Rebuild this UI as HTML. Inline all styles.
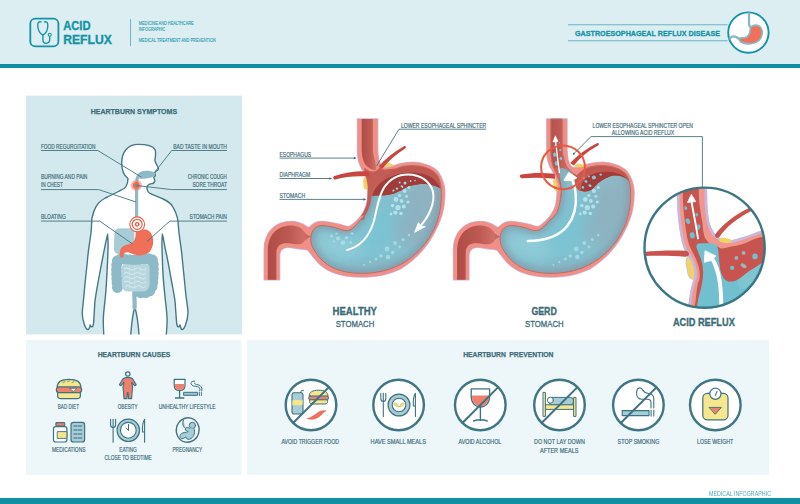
<!DOCTYPE html>
<html><head><meta charset="utf-8">
<style>
html,body{margin:0;padding:0;background:#fff;}
body{width:800px;height:504px;overflow:hidden;font-family:"Liberation Sans",sans-serif;}
svg{display:block;}
text{font-family:"Liberation Sans",sans-serif;}
.t{fill:#3d6b78;}
.lb{fill:#3f6c79;font-size:6.3px;stroke:#3f6c79;stroke-width:.18px;}
.ln{stroke:#44747f;stroke-width:.9;fill:none;}
</style></head><body>
<svg width="800" height="504" viewBox="0 0 800 504">
<defs>

<clipPath id="cpSym"><rect x="26.1" y="95.7" width="215.9" height="238.7"/></clipPath>

<radialGradient id="gFluid" cx="370" cy="245" r="85" gradientUnits="userSpaceOnUse">
<stop offset="0" stop-color="#80c4d3"/><stop offset=".6" stop-color="#86c1cf"/><stop offset="1" stop-color="#8dbcc9"/>
</radialGradient>
<linearGradient id="gLumen" x1="0" x2="1" y1="0" y2="0">
<stop offset="0" stop-color="#b04c47"/><stop offset=".6" stop-color="#bd5a53"/><stop offset="1" stop-color="#cf7068"/>
</linearGradient>
<path id="stOuter" d="M357.5,119 L357.5,151 C357.6,157 358.4,162 360.6,166.4 C362.6,170.2 365.2,173.6 366.6,177.6 C368.2,182.6 368.2,191 367.3,200 C366.5,208 362,216 356,221.4 C352.5,224.6 350,227 348,226.6 C344,225.8 341,224.6 338,224 C333,222.8 327,221.4 321.5,221.4 C316.5,221.4 312.5,224 310.3,226.4 C309,227.6 308,227.8 306.8,226.8 C302.5,223.4 297,221.4 291,221.4 C275,221.4 264.2,232.5 264.2,250 L264.2,279.8 L279.6,279.8 L279.6,256 C279.6,251 281.5,248.2 286.5,247.4 C291,247 296,248.6 301,249 C304,249.2 306.5,249.2 308,250.2 C310,252.4 312,255.4 314,257.8 C317,261.6 320,265 323.5,267.2 C326.5,269.4 329.5,271 331,271.5 C336,273.6 341,275 347,276 C353,277 359,277.2 365,277 C371,276.8 377,276.2 382.5,275 C389,273.4 395,271.4 400.5,268.8 C406.6,265 412,261 417,256 C423,250 428.8,242.8 433.2,234.8 C436.8,228.4 440,221.2 442.2,214 C443.4,209.4 444.2,204.8 444.5,200 C444.8,196 444.9,193 444.7,190 C444.5,187 444,184.6 443.2,182.4 C442,178.6 440.2,174.6 437.8,171.6 C434.8,168.2 431,166.2 426.6,164.8 C422.4,163.4 418,162.5 413.4,162.3 C408.6,162.4 404,163 399.5,164 C396.5,164.8 394,165.8 391.6,166.5 C388.6,167.4 385.6,168.2 383.4,167.6 C381,166.4 379.5,163 378.8,160 C378,156 377.9,153 377.7,150 L377.7,119 Z"/>
<path id="stCav" d="M371.4,194 C371.2,203 367.6,212.4 361,219.6 C356.5,224.5 352.5,230 347.5,230.6 C344,231 340.5,229.2 337,228.2 C332,226.8 327,225.6 322,225.6 C318,225.6 314.6,227.6 312.8,230.6 C311.2,233.4 310.8,236.6 310.8,239 C310.8,242 311.6,245.6 313.4,248.8 C316,253.4 319.6,258 324,262 C328,265.4 333,268.2 338.5,270 C344,271.8 350,272.8 356,273.2 C362,273.6 368,273.4 374,272.6 C380,271.8 386,270.4 391.5,268.4 C398,266 404,262.8 409.5,258.8 C415.5,254.4 421,249 425.6,243 C430,237.2 433.6,230.6 436.4,223.8 C438.2,218.4 439.8,212.6 440.6,206.8 C441.2,201.6 441.5,196 441.3,191 C441.1,187 440.6,183.4 439.6,180.2 C438.6,176 435.6,172.6 432,170.4 C428,168.2 424,166.8 419.4,166.1 C414.6,165.4 409.6,165.4 405,166.1 C400.4,166.9 396,168.4 392,170.6 C388,173.4 384.2,176.2 381,179.4 C377.8,182.6 375.2,186.4 373.4,190 C372.6,191.4 371.8,192.6 371.4,194 Z"/>
<clipPath id="cpCav"><use href="#stCav"/></clipPath>
<clipPath id="cpOuter"><use href="#stOuter"/></clipPath>
<g id="bubC" fill="#b2e1eb">
<circle cx="404.5" cy="191" r="2.00"/><circle cx="409" cy="187.5" r="1.50"/><circle cx="399.5" cy="195.5" r="1.62"/><circle cx="396" cy="199.5" r="2.38"/><circle cx="401.6" cy="201" r="1.88"/><circle cx="406.6" cy="196.4" r="1.38"/><circle cx="392.5" cy="205.5" r="1.75"/><circle cx="398" cy="207.5" r="2.62"/><circle cx="403.8" cy="206.6" r="2.00"/><circle cx="408" cy="202" r="1.62"/><circle cx="395.4" cy="212.6" r="2.12"/><circle cx="401" cy="213.6" r="1.75"/><circle cx="391" cy="214" r="1.38"/>
</g>
<g id="bubL" fill="#b2e1eb" opacity=".75"><circle cx="331.5" cy="236" r="1.5"/><circle cx="336.5" cy="233.6" r="1.2"/><circle cx="338" cy="238.6" r="2"/><circle cx="343" cy="242.6" r="2.3"/><circle cx="346.6" cy="237.6" r="1.7"/><circle cx="352" cy="233.6" r="1.4"/><circle cx="350.8" cy="242.6" r="1.3"/><circle cx="334" cy="241.4" r="1.1"/></g>
<g id="bubB" fill="#b2e1eb" opacity=".7"><circle cx="376" cy="259" r="1.5"/><circle cx="381" cy="256" r="1.7"/><circle cx="387" cy="249" r="2.4"/><circle cx="392.6" cy="252.6" r="1.8"/><circle cx="388" cy="257" r="2.3"/><circle cx="395" cy="243" r="2"/><circle cx="399.6" cy="247" r="1.4"/><circle cx="403" cy="239.5" r="1.6"/><circle cx="409" cy="235" r="1.3"/><circle cx="370" cy="262" r="1.2"/><circle cx="364" cy="265" r="1"/></g>
<g id="bubbles"><use href="#bubC"/><use href="#bubL"/><use href="#bubB"/></g>
<g id="bubblesG"><use href="#bubC"/><use href="#bubB"/></g>
<g id="stBase">
<use href="#stOuter" fill="#ef8f86" stroke="#c9b8de" stroke-width="1.4"/>
<use href="#stOuter" fill="#ef8f86"/>
</g>

<clipPath id="cpBig"><circle cx="704.6" cy="247.7" r="60.1"/></clipPath>
<path id="gCav" d="M361.6,119 L361.6,150 C361.6,158 362.6,164 365,169 C367.6,174.6 370.6,181 371.6,188 C372.2,194 371.4,203 367.6,212.4 C365,217 361,219.6 361,219.6 C356.5,224.5 352.5,230 347.5,230.6 C344,231 340.5,229.2 337,228.2 C332,226.8 327,225.6 322,225.6 C318,225.6 314.6,227.6 312.8,230.6 C311.2,233.4 310.8,236.6 310.8,239 C310.8,242 311.6,245.6 313.4,248.8 C316,253.4 319.6,258 324,262 C328,265.4 333,268.2 338.5,270 C344,271.8 350,272.8 356,273.2 C362,273.6 368,273.4 374,272.6 C380,271.8 386,270.4 391.5,268.4 C398,266 404,262.8 409.5,258.8 C415.5,254.4 421,249 425.6,243 C430,237.2 433.6,230.6 436.4,223.8 C438.2,218.4 439.8,212.6 440.6,206.8 C441.2,201.6 441.5,196 441.3,191 C441.1,187 440.6,183.4 439.6,180.2 C438.6,176 435.6,172.6 432,170.4 C428,168.2 424,166.8 419.4,166.1 C414.6,165.4 409.6,165.4 405,166.1 C400.4,166.9 396.6,168.4 393,170.6 C390.6,172.6 389,174 387.6,175.6 C384.4,174 380.6,171.4 378,167.6 C375.6,164 374.4,159 373.6,155 C373,152 372.9,151 372.9,150 L372.9,119 Z"/>
<clipPath id="cpGCav"><use href="#gCav"/></clipPath>

<filter id="bl3" x="-20%" y="-20%" width="140%" height="140%"><feGaussianBlur stdDeviation="3"/></filter>
<filter id="bl6" x="-30%" y="-30%" width="160%" height="160%"><feGaussianBlur stdDeviation="7"/></filter>
<g id="fluidShade">
<ellipse cx="420" cy="215" rx="26" ry="36" transform="rotate(25 420 215)" fill="#93aab8" opacity=".6" filter="url(#bl6)"/>
<ellipse cx="380" cy="270" rx="55" ry="9" transform="rotate(-8 380 270)" fill="#8fa9b7" opacity=".55" filter="url(#bl6)"/>
<ellipse cx="340" cy="246" rx="24" ry="10" transform="rotate(12 340 246)" fill="#a6dbe6" opacity=".4" filter="url(#bl6)"/>
<ellipse cx="385" cy="222" rx="12" ry="30" transform="rotate(35 385 222)" fill="#74c4d6" opacity=".5" filter="url(#bl6)"/>
</g>
<!--DEFS-->
</defs>
<!-- header -->
<rect x="0" y="0" width="800" height="64" fill="#dceef2"/>
<rect x="0" y="64" width="800" height="4" fill="#0f8fa2"/>
<!-- panels -->
<rect x="26.1" y="95.7" width="215.9" height="238.7" fill="#d4e9ee"/>
<rect x="26" y="340" width="215.5" height="135" fill="#edf6f9"/>
<rect x="247" y="340" width="522" height="135" fill="#edf6f9"/>
<!-- footer -->
<rect x="0" y="498" width="800" height="6" fill="#0f8fa2"/>

<g id="hdr">
<rect x="30.3" y="18.6" width="28.1" height="27.8" rx="5" fill="none" stroke="#1493a6" stroke-width="1.8"/>
<path d="M41,21.8 C39,21.4 37.8,22.6 37.7,25 C37.6,29.4 39.6,34 42.9,35 C46.2,34 48,29.4 47.8,25 C47.7,22.6 46.4,21.4 44.4,21.8" fill="none" stroke="#1493a6" stroke-width="1.35" stroke-linecap="round"/>
<path d="M42.9,35 V39.4 C42.9,42 44.4,43.3 46.3,43.3 C48.3,43.3 49.7,42 49.7,39.6 V36.2" fill="none" stroke="#1493a6" stroke-width="1.35"/>
<circle cx="49.7" cy="34.7" r="1.5" fill="none" stroke="#1493a6" stroke-width="1.1"/>
<text x="63.2" y="29.6" font-size="12.6" font-weight="bold" fill="#1493a6" stroke="#1493a6" stroke-width=".35" textLength="27.4" lengthAdjust="spacingAndGlyphs">ACID</text>
<text x="63.2" y="43.8" font-size="12.6" font-weight="bold" fill="#1493a6" stroke="#1493a6" stroke-width=".35" textLength="48.6" lengthAdjust="spacingAndGlyphs">REFLUX</text>
<rect x="130.2" y="19" width="0.8" height="27" fill="#4aa9b8"/>
<text x="138.8" y="24.8" font-size="5" fill="#2a9bad" stroke="#2a9bad" stroke-width=".12" textLength="54.8" lengthAdjust="spacingAndGlyphs">MEDICINE AND HEALTHCARE</text>
<text x="138.8" y="30.8" font-size="5" fill="#2a9bad" stroke="#2a9bad" stroke-width=".12" textLength="26.5" lengthAdjust="spacingAndGlyphs">INFOGRAPHIC</text>
<text x="138.8" y="42.3" font-size="5" fill="#2a9bad" stroke="#2a9bad" stroke-width=".12" textLength="77" lengthAdjust="spacingAndGlyphs">MEDICAL TREATMENT AND PREVENTION</text>
<rect x="568" y="24.4" width="159.6" height="0.8" fill="#4aa9b8"/>
<rect x="568" y="40.4" width="159.6" height="0.8" fill="#4aa9b8"/>
<text x="575" y="35.8" font-size="7.9" font-weight="bold" fill="#1493a6" stroke="#1493a6" stroke-width=".3" textLength="145" lengthAdjust="spacingAndGlyphs">GASTROESOPHAGEAL REFLUX DISEASE</text>
<circle cx="748.4" cy="32.6" r="20.2" fill="#fff" stroke="#1493a6" stroke-width="1.9"/>
<path d="M749,12.4 V23.4 C749,25.4 749.8,26.6 751.4,27.4" fill="none" stroke="#86b8c5" stroke-width="2.3"/>
<path d="M729.6,39.4 C730.4,37.4 732,36.2 734,36.4 C736,36.6 737.6,38 739.6,39.2" fill="none" stroke="#86b8c5" stroke-width="2.4"/>
<path d="M751,27 C753.6,24.4 758.6,24.4 760.8,27.6 C763.2,31.4 762.4,37 759,40.4 C755,44.2 747,44.6 742.4,42.6 C740,41.6 738.8,39.8 739.6,38.6 C740.4,37.6 742.4,38.2 744.6,37.8 C747.6,37.2 749.6,34.6 750,31.4 C750.2,29.6 750,28.4 751,27 Z" fill="#f0705a" stroke="#86b8c5" stroke-width="1.7" stroke-linejoin="round"/>
</g>
<text x="709" y="496" font-size="8" fill="#2a9bad" textLength="62" lengthAdjust="spacingAndGlyphs" opacity=".85">MEDICAL INFOGRAPHIC</text>
<!--HEADER-->

<g id="sym">
<text x="90.7" y="113.6" font-size="7.6" font-weight="bold" class="t" stroke="#3d6b78" stroke-width=".25" textLength="86.4" lengthAdjust="spacingAndGlyphs">HEARTBURN SYMPTOMS</text>
<g clip-path="url(#cpSym)">
<path id="body" d="M128,178.5 C124.5,176 121.7,170 121.7,163 C121.7,152 128,144.4 138,144.4 C146,144.4 153,146 155,149.5 C156.2,152 155.6,156 154.9,160.4 C155.5,163.5 158.6,167.5 158.5,169 C158.4,170.5 155.2,170.8 154.9,172.7 C154.8,173.8 155.5,174.6 155.3,175.5 C155.1,176.4 153.8,176.6 153.8,177.4 C153.8,178.4 155.2,179.6 154.8,181 C154.4,182.6 153.4,183.6 152,183.6 C150.5,183.8 149.2,184 148.2,185 C147,186 146.8,188 147.2,189.6 C147.6,191.4 148.4,192.6 150,193.4 C154,195.4 159,197 163.2,199 C167.5,201 170.8,203.2 172.7,206.6 C175,210.5 176.6,214 177.4,217.9 C178.4,223 178.4,226 178.7,230 C179.6,239 181.2,247 182,255.7 C183,267 184.5,280 185.5,291.4 C186.2,299 187.4,305 187.9,310.5 C188.3,316 187,321 185.5,325 C184.5,327.8 183.5,329.5 182,329.5 C180.8,329.5 180.6,327 180,325 C179.4,326.6 178.6,327.2 177.8,326.6 C176.6,325.6 176.6,322.5 176.4,320 C176,314 175.5,309 175.2,303 C174.4,295 172.6,287 171.2,279.5 C169.4,269 167.4,258 165.2,248.6 C164.4,244 163.6,239 162.4,234.3 C162,239 161.8,244 162,248.6 C162.3,256 162.5,265 162.9,272.4 C163.4,281 164.3,290 165.2,298.6 C166,306 167,313 167.1,320 C167.2,326 166.4,332 166,338 L139.3,338 C138.6,328 137.6,316 134.8,307 C132,316 131.2,328 130.5,338 L104,338 C103.6,332 103.2,326 103.3,320 C103.4,313 104.4,306 105.2,298.6 C106.1,290 106.6,281 107,272.4 C107.4,265 107.8,256 108,248.6 C108.2,244 108,239 107.6,234.3 C106.4,239 105.3,244 104.5,248.6 C102.6,258 100.5,269 98.6,279.5 C97.2,287 95.6,295 94.8,303 C94.4,309 94.2,314 93.8,320 C93.6,322.5 93.6,325.6 92.4,326.6 C91.6,327.2 90.8,326.6 90.2,325 C89.6,327 89.4,329.5 87.9,329.5 C86.5,329.5 85.5,327.8 84.5,325 C83,321 81.9,316 82.4,310.5 C82.9,305 83.7,299 84.3,291.4 C85.2,280 86.9,267 87.9,255.7 C88.7,247 90.4,239 91.3,230 C91.6,226 91.4,223 92,218 C92.8,214 93.8,210.5 96,206.6 C98,203.2 101,200.4 105.3,198 C109.5,196 114.5,193.6 118.5,191.5 C121.5,190 124.5,189 126,186.5 C127.5,184 128,181 128,178.5 Z" fill="#fff" stroke="#447885" stroke-width="1.4" stroke-linejoin="round"/>
<!-- mouth / throat -->
<path d="M155,174.2 C151,172.2 145,171.6 141.5,173.2 C138,175 136.6,178.5 136.6,183 V226" fill="none" stroke="#8dbac6" stroke-width="3.2"/>
<path d="M154.5,174.6 C150,172.6 144.6,172.8 141.5,174.4 C139.6,175.6 139,177.4 139.2,178.6 C143,178.9 150,178.2 154,176.4 Z" fill="#8dbac6"/>
<!-- liver -->
<path d="M114.4,233 C114.6,230 116.5,228.6 119,228.5 L133,228.3 C134,228.3 134.3,229 134.3,230 L134.3,245 C133,247.5 130.5,250 128,252 C124.5,254.6 119.5,255 116.4,253.4 C114.4,252.2 113.8,250 113.9,247.5 Z" fill="#a8ccd6"/>
<!-- large intestine -->
<path d="M134.4,292 C134,297 135,302 134.6,307.6" fill="none" stroke="#8dbac6" stroke-width="4.2" stroke-linecap="round"/>
<path d="M117.4,287.6 C116.6,279 116.2,269 116.8,262.6 C117.2,259.4 119,258.8 122,259 C130,260.4 140,260 148,258.8 C151.6,258.4 153.2,259.6 153.3,262.8 C153.6,270 153.4,277 152.6,284 C152,289 149.6,292.4 145,292.8 C142,293 139.6,292.8 137.4,292.4" fill="none" stroke="#8dbac6" stroke-width="8.4" stroke-linejoin="round" stroke-linecap="round"/>
<path d="M117.4,287.6 C116.6,279 116.2,269 116.8,262.6 C117.2,259.4 119,258.8 122,259 C130,260.4 140,260 148,258.8 C151.6,258.4 153.2,259.6 153.3,262.8 C153.6,270 153.4,277 152.6,284 C152,289 149.6,292.4 145,292.8 C142,293 139.6,292.8 137.4,292.4" fill="none" stroke="#8dbac6" stroke-width="10.8" stroke-linejoin="round" stroke-linecap="round" stroke-dasharray="0.1 4.4"/>
<path d="M121.8,268 C121.8,265.4 123.4,264 126,264.2 C133,265 140,265 146,264.2 C148.6,264 149.6,265.4 149.6,268 V284 C149.6,288.6 147,291.4 142.6,291.4 H128 C124,291.4 121.8,289 121.8,285 Z" fill="#b6d6de"/>
<path d="M124,269 q2.6,-2.4 5.4,0 t5.4,0 t5.4,0 t5.4,0 M124,273.4 q2.6,-2.4 5.4,0 t5.4,0 t5.4,0 t5.4,0 M124,277.8 q2.6,-2.4 5.4,0 t5.4,0 t5.4,0 t5.4,0 M124,282.2 q2.6,-2.4 5.4,0 t5.4,0 t5.4,0 t5.4,0 M125,286.6 q2.6,-2.4 5.4,0 t5.4,0 t5.4,0 t4,0" fill="none" stroke="#dcedf1" stroke-width=".9"/>
<path d="M129.4,266 v22 M134.8,266 v23 M140.2,266 v23 M145.4,267 v20" fill="none" stroke="#c9e1e7" stroke-width=".6"/>
<!-- stomach -->
<path d="M135.6,226 V231 C135.8,234 135.6,237 134.6,239.6 C133.6,242.4 131,244 128,244.6 C125,245.2 121.6,246.6 120.4,249.4 C119.4,252 119.6,255 120.4,257.4 L123.6,257.2 C123.4,255.2 123.6,253 125,252.2 C127.5,251 131,253.6 135,254.8 C140,256.2 146,255.4 149.6,251.8 C152.6,248.6 153.6,243.6 153,239 C152.4,234.4 150,230.6 146,229.6 C143,229 140.2,229.8 138.2,231.4 V226 Z" fill="#f06f59"/>
<!-- rings -->
<circle cx="137.2" cy="224.3" r="7.4" fill="#fff" stroke="#ee5f45" stroke-width="1.1"/>
<circle cx="137.2" cy="224.3" r="5" fill="#fff" stroke="#ee5f45" stroke-width="1.2"/>
<circle cx="137.2" cy="224.3" r="2.4" fill="#ee5f45"/>
<circle cx="137.2" cy="224.3" r="1" fill="#fff"/>
<circle cx="136.3" cy="185.4" r="5.6" fill="#f2806a" opacity=".55"/>
<circle cx="136.3" cy="185.4" r="3.4" fill="#ef6a52"/>
<circle cx="136.5" cy="185.4" r="1.3" fill="#5f93a5"/>
</g>
<!-- labels -->
<g class="lb">
<text x="40.9" y="148.7" textLength="54.6" lengthAdjust="spacingAndGlyphs">FOOD REGURGITATION</text>
<text x="40.9" y="179.4" textLength="46.5" lengthAdjust="spacingAndGlyphs">BURNING AND PAIN</text>
<text x="40.9" y="187.1" textLength="22" lengthAdjust="spacingAndGlyphs">IN CHEST</text>
<text x="40.9" y="219.3" textLength="24.9" lengthAdjust="spacingAndGlyphs">BLOATING</text>
<text x="173.2" y="148.7" textLength="53.7" lengthAdjust="spacingAndGlyphs">BAD TASTE IN MOUTH</text>
<text x="187.7" y="179.4" textLength="39.2" lengthAdjust="spacingAndGlyphs">CHRONIC COUGH</text>
<text x="192.4" y="187.1" textLength="34.5" lengthAdjust="spacingAndGlyphs">SORE THROAT</text>
<text x="189.6" y="219.3" textLength="37.3" lengthAdjust="spacingAndGlyphs">STOMACH PAIN</text>
</g>
<path class="ln" d="M40.9,150.5 H97.8 L141.5,177.2 M40.9,189.6 H98.7 L136,202 M40.9,221.1 H99.7 L132.6,244 M226.9,150.5 H171.7 L154.5,172.5 M226.9,189.6 H171.7 L137,185.6 M226.9,221.1 H169.8 L147,241.5"/>
</g>
<!--SYMPTOMS-->

<g id="healthy">
<use href="#stBase"/>
<path d="M366.6,176.4 C363.6,177 362.6,180 363.4,183 C364,185.4 362.8,187 364.4,189 C366,190.4 368,189.6 368.8,187.4 C368.6,183 368,179.6 366.6,176.4 Z" fill="#f2d266"/>
<path d="M382.6,166.6 C384,163.6 387.6,162 390,163.4 C392.4,164.4 394,164 393.6,166 C390,167 386,167.6 382.6,166.6 Z" fill="#f2d266"/>

<!-- esophagus lumen -->
<path d="M361.7,119 L361.7,150 C361.8,155.6 362.8,160 364.8,163.4 C367.4,167.4 371.4,169.8 376,169.8 C376,167 375.8,165 375.4,162.6 C374.4,158 373,154 372.9,150 L372.9,119 Z" fill="url(#gLumen)"/>
<!-- duodenum lumen -->
<path d="M267.8,279.8 L267.8,251 C267.8,235 277,225.4 291,225.4 C297,225.4 301.5,227.6 303.8,231 C305.8,234 306,238.4 304.4,241.4 C302.8,244 299,244.6 295,244.2 C290,243.6 286,242.8 282.6,243.8 C278.6,245 276.4,248 276.4,253 L276.4,279.8 Z" fill="url(#gLumen)"/>
<path d="M304,232 C306.5,234.5 308.5,236 311.5,236.6 C308.5,237.6 306.5,239 304.8,241 C305.6,238 305.4,235 304,232 Z" fill="#c8665f"/>
<!-- cavity -->
<use href="#stCav" fill="#be5850"/>
<g clip-path="url(#cpCav)">
<path d="M300,280 L300,220 L364,220 C368,208 369.4,200 371,194.6 C377,195.6 384,195.8 389.8,194.6 C395,193.4 398,191.6 401.7,190.2 C405,188 408,186.4 411.6,185.6 C416,184.4 421,183.8 425.5,184.1 C430,184.4 435,186 439.4,187.7 L450,190 L450,280 Z" fill="url(#gFluid)"/>
<use href="#fluidShade"/><use href="#stCav" fill="none" stroke="#7d95a6" stroke-opacity=".75" stroke-width="7" filter="url(#bl3)"/>
<path d="M360,150 L360,194 L371,194.6 C377,195.6 384,195.8 389.8,194.6 C395,193.4 398,191.6 401.7,190.2 C405,188 408,186.4 411.6,185.6 C416,184.4 421,183.8 425.5,184.1 C430,184.4 435,186 439.4,187.7 L450,190 L450,150 Z" fill="#be5850"/>
<path d="M372,196 C374,189 380,182 388,178 C396,174 405,172.4 413.4,172.6 C422,172.8 430,175.6 435,180.4 C438,183.4 440,186.6 441,189 L439.4,187.7 C435,186 430,184.4 425.5,184.1 C421,183.8 416,184.4 411.6,185.6 C408,186.4 405,188 401.7,190.2 C398,191.6 395,193.4 389.8,194.6 C384,195.8 377,195.6 372,196 Z" fill="#a13c3b"/>
<use href="#bubbles"/>
<g fill="#9fd3df"><circle cx="397" cy="188.6" r="1.2"/><circle cx="405" cy="183" r="1.5"/><circle cx="399.6" cy="182.6" r="1"/><circle cx="393.4" cy="190.6" r="1.1"/><circle cx="410.6" cy="181" r=".9"/><ellipse cx="402" cy="186.6" rx="1.6" ry="1" transform="rotate(40 402 186.6)"/><circle cx="415" cy="180.6" r=".8"/></g>
</g>
<use href="#stCav" fill="none" stroke="#c96a62" stroke-width="1"/>
<!-- sphincter muscle -->
<path d="M365.6,176 C367.6,182 368.4,190 367.4,200 C366.8,206 364,212 361,216.5 L366,214 C369.4,208 371.2,201 371.4,194 C373.4,188.6 377.4,183 382,178.6 C386.6,174.4 392,171.4 398,169 C394,168.4 390,168.6 386,169.6 C383.6,170.2 381.6,169.4 380,167 C378.6,169.4 376,171.4 373,171.6 C369.6,171.8 366.4,170 364.6,167.2 C364,170 364.6,173.4 365.6,176 Z" fill="#c25c55"/>
<!-- diaphragm -->
<path d="M334.4,176 C345,172.2 357,170.8 368.6,171.4 L369.4,176.6 C357.6,175.6 346,176.4 335.4,179.5 C333.2,180 332.4,176.8 334.4,176 Z" fill="#c8463f"/>
<path d="M378.6,166.4 Q389,154.6 404,146.2 C405.8,145.4 406.8,147.6 405.2,148.6 Q391.4,157.2 382.4,168.8 Z" fill="#c8463f"/>
<!-- white arrow -->
<path d="M347,250 C359,247 368.6,238 373.6,222 C377,210 378,197 384,187.6 C390,178.6 399,174.4 408,174.4 C420,174.4 430.4,181 433,192 C435,202 430,215 420.5,226" fill="none" stroke="#fff" stroke-width="2" stroke-linecap="round"/>
<path d="M414.6,232.4 L418.4,222.6 L421,226.2 L425.4,226.6 Z" fill="#fff" stroke="#fff" stroke-width=".8" stroke-linejoin="round"/>
<!-- labels -->
<g class="lb">
<text x="279.5" y="156.7" textLength="31.6" lengthAdjust="spacingAndGlyphs">ESOPHAGUS</text>
<text x="279.5" y="177.2" textLength="30.8" lengthAdjust="spacingAndGlyphs">DIAPHRAGM</text>
<text x="279.5" y="198.1" textLength="25.8" lengthAdjust="spacingAndGlyphs">STOMACH</text>
<text x="400.9" y="127.9" textLength="85.3" lengthAdjust="spacingAndGlyphs">LOWER ESOPHAGEAL SPHINCTER</text>
</g>
<path class="ln" d="M279.5,158.1 H354.6 M279.5,178.5 H330.2 M279.5,199.4 H364.2 M486.2,129.2 H399 L376.5,166"/>
<path d="M353.8,156.8 L356.6,158.1 L353.8,159.4 Z M329.4,177.2 L332.2,178.5 L329.4,179.8 Z M363.4,198.1 L366.2,199.4 L363.4,200.7 Z" fill="#3f6c79"/>
<text x="332.6" y="315" font-size="11.4" font-weight="bold" class="t" stroke="#3d6b78" stroke-width=".35" textLength="44.4" lengthAdjust="spacingAndGlyphs">HEALTHY</text>
<text x="335.7" y="326.8" font-size="9.8" class="t" stroke="#3d6b78" stroke-width=".3" textLength="38.6" lengthAdjust="spacingAndGlyphs">STOMACH</text>
</g>

<g id="gerd" transform="translate(189.3,0)">
<use href="#stBase"/>
<path d="M365.4,177.6 C363.6,179 363.4,181.6 364.2,184 C364.8,186.4 364.2,188.8 365.6,190.6 C367,192 368.8,191.4 369,189.4 C368.8,184.6 367.6,180.6 365.4,177.6 Z" fill="#f2d266"/>
<path d="M384.6,166.6 C386,163.8 389,163 391.4,164 C393.6,165 395.6,164.6 395,166.4 C391.6,167.6 388,167.8 384.6,166.6 Z" fill="#f2d266"/>

<!-- duodenum lumen -->
<path d="M267.8,279.8 L267.8,251 C267.8,235 277,225.4 291,225.4 C297,225.4 301.5,227.6 303.8,231 C305.8,234 306,238.4 304.4,241.4 C302.8,244 299,244.6 295,244.2 C290,243.6 286,242.8 282.6,243.8 C278.6,245 276.4,248 276.4,253 L276.4,279.8 Z" fill="url(#gLumen)"/>
<path d="M304,232 C306.5,234.5 308.5,236 311.5,236.6 C308.5,237.6 306.5,239 304.8,241 C305.6,238 305.4,235 304,232 Z" fill="#c8665f"/>
<use href="#gCav" fill="#be5850"/>
<g clip-path="url(#cpGCav)">
<rect x="355" y="118" width="25" height="60" fill="url(#gLumen)"/>
<!-- fluid with tongue -->
<path d="M300,280 L300,220 L362,220 L372.6,196 C372.6,188 371.4,180 370,173 C369.6,170 371,168 372.8,168.1 C376,168.6 380.6,171 383.6,173.7 C385.4,176 385.9,179.2 386.2,183 C386.6,187 388,190 391.5,191 C394,191.6 397,191.6 399.4,191 C403,190 406,186 408.7,183.3 C411.6,180.6 415,178.6 418.3,177.4 C421,176.2 424,175.5 426.7,175.6 C430,175.8 432.6,176.4 435,177.4 C438,178.8 440.4,181 442.1,183.3 L450,188 L450,280 Z" fill="url(#gFluid)"/>
<use href="#fluidShade"/><use href="#gCav" fill="none" stroke="#7d95a6" stroke-opacity=".75" stroke-width="7" filter="url(#bl3)"/>
<rect x="355" y="118" width="15.4" height="78" fill="url(#gLumen)"/>
<rect x="355" y="118" width="25" height="49.6" fill="url(#gLumen)"/>
<!-- upper region above fluid (right side) -->
<path d="M386,160 L386.2,183 C386.6,187 388,190 391.5,191 C394,191.6 397,191.6 399.4,191 C403,190 406,186 408.7,183.3 C411.6,180.6 415,178.6 418.3,177.4 C421,176.2 424,175.5 426.7,175.6 C430,175.8 432.6,176.4 435,177.4 C438,178.8 440.4,181 442.1,183.3 L450,188 L450,150 L386,150 Z" fill="#be5850"/>
<path d="M391,190.6 C391,184 394,178.4 400,175.4 C406,172.6 412,171.6 418,171.8 C426,172 433,174.4 437.4,178.6 C439,180 441,182 442.1,183.3 C440.4,181 438,178.8 435,177.4 C432.6,176.4 430,175.8 426.7,175.6 C424,175.5 421,176.2 418.3,177.4 C415,178.6 411.6,180.6 408.7,183.3 C406,186 403,190 399.4,191 C397,191.6 394,191.6 391,190.6 Z" fill="#a13c3b"/>
<!-- sphincter muscle right of tongue -->
<path d="M383.6,173.7 C385.4,176 385.9,179.2 386.2,183 C386.6,187 388,190 391.5,191 C391,184 394,178.4 400,175.4 C397,173 392,172.6 387.6,175.6 Z" fill="#c25c55"/>
<use href="#bubblesG"/>
<g fill="#7cc6d4"><ellipse cx="365.4" cy="154.6" rx="1.7" ry="2.1" transform="rotate(-20 365.4 154.6)"/><ellipse cx="371.6" cy="158.6" rx="1.3" ry="1.8"/><ellipse cx="367.4" cy="163.4" rx="2" ry="2.4"/><circle cx="366" cy="145.4" r="1"/><circle cx="371" cy="150" r="1.1"/><circle cx="370" cy="143" r=".7"/></g>
<g fill="#86c6d3"><ellipse cx="396.6" cy="181.4" rx="1.7" ry="1.3" transform="rotate(30 396.6 181.4)"/><circle cx="404.6" cy="177.6" r="2"/><circle cx="411.4" cy="174.6" r="1.2"/><ellipse cx="400.6" cy="185.6" rx="1.8" ry="1.2" transform="rotate(30 400.6 185.6)"/><circle cx="393.6" cy="187.4" r="1.3"/><circle cx="399.6" cy="176.4" r="1" fill="#a0b4bd"/><circle cx="394.6" cy="178" r=".9" fill="#a0b4bd"/></g>
</g>
<use href="#gCav" fill="none" stroke="#c96a62" stroke-width="1"/>
<!-- diaphragm -->
<path d="M331.9,174.6 C342,172.6 354,172.6 365.4,173.8 L365.8,178.8 C354,177.4 343,177.4 332.7,178.2 C330.4,178.4 329.8,175 331.9,174.6 Z" fill="#c8463f"/>
<path d="M380.8,163 Q392,151 407.6,143.2 C409.4,142.4 410.4,144.6 408.8,145.6 Q394.4,153.4 384.6,165.4 Z" fill="#c8463f"/>
<!-- arrows -->
<path d="M338.5,241 C356,240.8 370,236 378,226 C385,217 387.4,205 386.4,194 C386,188.6 384.8,184 383.2,180.6" fill="none" stroke="#fff" stroke-width="2.5" stroke-linecap="round"/>
<path d="M379.4,172.4 L387.5,177.8 L383,180.4 L374.6,180.4 Z" fill="#fff" stroke="#fff" stroke-width=".9" stroke-linejoin="round"/>
<path d="M370.1,172.5 C369,163 367.4,152 366.3,141" fill="none" stroke="#fff" stroke-width="1.3" stroke-linecap="round"/>
<path d="M366,135.8 L368.8,141.6 L363.6,142 Z" fill="#fff" stroke="#fff" stroke-width=".6" stroke-linejoin="round"/>
<!-- red circle -->
<circle cx="373.7" cy="167.3" r="21.9" fill="none" stroke="#ea5a40" stroke-width="2"/>
</g>
<g class="lb">
<text x="592.6" y="127.7" textLength="100.3" lengthAdjust="spacingAndGlyphs">LOWER ESOPHAGEAL SPHINCTER OPEN</text>
<text x="611.7" y="134.7" textLength="62.5" lengthAdjust="spacingAndGlyphs">ALLOWING ACID REFLUX</text>
</g>
<path class="ln" d="M574,153.6 L591,136.6 H702.4 V187"/>
<circle cx="573.8" cy="153.8" r="1" fill="#3f6c79"/>
<text x="531.4" y="315" font-size="11.4" font-weight="bold" class="t" stroke="#3d6b78" stroke-width=".35" textLength="25.4" lengthAdjust="spacingAndGlyphs">GERD</text>
<text x="525" y="326.8" font-size="9.8" class="t" stroke="#3d6b78" stroke-width=".3" textLength="38.6" lengthAdjust="spacingAndGlyphs">STOMACH</text>

<!-- big circle -->
<g id="big">
<circle cx="704.6" cy="247.7" r="60.1" fill="#fff"/>
<g clip-path="url(#cpBig)">
<!-- fat (behind wall) -->
<path d="M688.6,256.6 C686,259 686,263 687,266.6 C688,270 687.4,273.6 689.4,276.6 C691.4,279.6 695,280 696.4,277 L697,262 Z" fill="#f2d266" stroke="#c9b8de" stroke-width="1.6"/>
<path d="M688.6,256.6 C686,259 686,263 687,266.6 C688,270 687.4,273.6 689.4,276.6 C691.4,279.6 695,280 696.4,277 L697,262 Z" fill="#f2d266"/>
<!-- outer wall shape -->
<path id="bigOuter" d="M678.2,180 L678.2,200 C678.6,213 680,226 682,236.6 C683,242 684.4,247 686.4,251 C687.6,253 688.6,254 689.3,255 C691,257.6 692.4,260 693.4,262.6 C694.4,265.4 695.2,268 695.5,271 C696,275 695.4,279.6 693.6,283.6 C692,288.6 691,294 690.4,300 C690,304 689,308 688.5,314 L780,314 L780,226 C773,227.8 766,230 760,232.4 C757.6,233.4 755,234 752.9,234.9 C749.6,236.2 746,237.6 742.6,238.6 C739,239.8 735,241 731.6,241.6 C727,242.2 722,241.4 718.4,238.6 C716,236.6 714,235 712.9,233.4 C711,230.4 709.4,227 708.4,223.7 C707,218 706.4,211 706,204 L705.6,180 Z" fill="#f0968d" stroke="#c9b8de" stroke-width="2.6"/>
<use href="#bigOuter" stroke="none"/>
<!-- fat on right (on top of wall) -->
<path d="M718.7,239.6 C720,237.6 723,237 725.6,238 C728,239 731,238.4 731.6,240.6 C732,242.4 729,243.4 726,243 C723,242.6 720,243 718.7,239.6 Z" fill="#f2d266"/>
<!-- lumen + cavity -->
<path d="M682.8,180 L682.8,198 C683.4,211 685,225 687,236.6 C687.8,240.6 688.6,243.6 689.6,246 C690.8,249 692.2,251.6 693.6,254 C695,256.6 696.2,259.4 697.2,262.2 C698.2,265 698.9,267.6 699.3,270 C699.8,273 699.8,275.6 699.6,278 C699.4,280 698.6,281.6 697.9,283.4 C696.8,288.6 696.2,294 695.7,300 C695.2,304 694,308 693.5,314 L780,314 L780,231 C774,232.6 769,234.6 765,236 C760,237.4 756,238.6 752,240 C750,241 748,242 745.7,242.9 C741,244.6 736,245.8 731.4,246.4 C728,247 724.6,248.4 721.4,248.6 C719.6,248.2 718.4,247 717,246 C714,245.4 711.4,244.4 709,243 C707,241.4 705.4,239 704.5,236.6 C703.2,232.6 702.8,228 702.6,223.7 C701,215 699.4,206 698.9,198 L698.7,180 Z" fill="#c4554f"/>
<!-- slightly different red lower-right -->
<path d="M722,252 C728,250.6 736,250 743,247.6 C750,245.4 758,242.6 768,240 L780,238 L780,290 L722,290 Z" fill="#c9534e"/>
<!-- fluid -->
<path d="M698,243.6 C697,244.4 696.2,245.6 696.4,247.1 C697.4,251 699.4,254.6 700.7,258.6 C701.8,262 702.6,265.4 702.9,268.6 C703.4,273.6 703,278.6 702.1,282.9 C701.4,287 700.4,290.6 699.3,294.3 C698.4,298 697.6,302 697.1,305.7 L696,314 L780,314 L780,250 C774,254.6 767,259.6 760,264.3 C756,267 752,269.6 748.6,271.4 C745,274 741,278 737.1,280 C734,281.4 731,281.8 728.6,281.4 C726,281 724,279.4 722.9,277.1 C721.4,274 720.6,271 720,268.6 C719.4,264 719.2,259 718.6,254.3 C718.4,251 718.2,248 717.1,246 C716,244.6 714,243.8 712,243.6 C707,243.2 702,243.4 698,243.6 Z" fill="#72c0cf"/>
<path d="M780,250 C774,254.6 767,259.6 760,264.3 C756,267 752,269.6 748.6,271.4 C745,274 741,278 737.1,280 L740,290 L780,275 Z" fill="#8ac8d4" opacity=".5"/>
<!-- bubbles -->
<g fill="#72c0cf"><ellipse cx="685.8" cy="208.2" rx="1.5" ry="1.9" transform="rotate(-15 685.8 208.2)"/><ellipse cx="696.8" cy="214.7" rx="1.5" ry="1.7"/><ellipse cx="687.9" cy="221.1" rx="2.1" ry="3" transform="rotate(-25 687.9 221.1)"/><ellipse cx="698.7" cy="227" rx="1.7" ry="2.8" transform="rotate(10 698.7 227)"/><ellipse cx="692.3" cy="235.3" rx="2.5" ry="3.2" transform="rotate(-10 692.3 235.3)"/><circle cx="755" cy="256.4" r="2.8"/><circle cx="732.1" cy="267.9" r="2.1"/></g>
<g fill="#96b8c2"><circle cx="743.6" cy="252.9" r="1.9"/><circle cx="736.4" cy="257.9" r="1.9"/><ellipse cx="743.6" cy="265.7" rx="3.2" ry="1.9" transform="rotate(35 743.6 265.7)"/></g>
<!-- diaphragm -->
<path d="M640,252.4 C655,250.6 672,250 685,250.8 C687.6,251 689,252.4 689,254 C689,255.8 687.6,257 685,256.8 C672,255.6 655,255.6 640,256.2 Z" fill="#c9524d"/>
<path d="M715.2,234.4 C722,225 735,214.6 750,207.6 L770,198 L771.6,201 L751.4,211 C738,217.6 726,227 719.4,237 C717.6,239 714,237 715.2,234.4 Z" fill="#c9524d"/>
<!-- arrows -->
<path d="M718.8,314 C719.8,300 719,286 716.4,275 C715,269.6 713.4,265 711,260.6 L714.4,258.6 C717,263 719,268 720.4,274 C723,286 723.8,300 722.8,314 Z" fill="#fff"/>
<path d="M705,250.7 L715.9,255.9 L711.4,260.4 L704.3,262.3 Z" fill="#fff" stroke="#fff" stroke-width=".8" stroke-linejoin="round"/>
<path d="M698,238.5 C696.4,227 693.6,214 691.6,202" fill="none" stroke="#fff" stroke-width="1.9" stroke-linecap="round"/>
<path d="M691.4,194.4 L695.7,201.6 L687.5,202.4 Z" fill="#fff" stroke="#fff" stroke-width=".8" stroke-linejoin="round"/>
</g>
<circle cx="704.6" cy="247.7" r="60.1" fill="none" stroke="#3b7783" stroke-width="2.4"/>
</g>
<text x="672.9" y="326.2" font-size="11.4" font-weight="bold" class="t" stroke="#3d6b78" stroke-width=".35" textLength="61.9" lengthAdjust="spacingAndGlyphs">ACID REFLUX</text>
<!--STOMACHS-->

<g id="causes" stroke-linejoin="round" stroke-linecap="round">
<text x="97.7" y="357.3" font-size="7.6" font-weight="bold" class="t" stroke="#3d6b78" stroke-width=".25" textLength="72.5" lengthAdjust="spacingAndGlyphs">HEARTBURN CAUSES</text>
<!-- burger -->
<path d="M57.2,387 C57.2,382 61.5,379.3 69,379.3 C76.5,379.3 80.8,382 80.8,387 Z" fill="#f6e68e" stroke="#3d7280" stroke-width="1.2"/>
<rect x="56.4" y="387" width="25.2" height="5.6" rx="2.6" fill="#f0806e" stroke="#3d7280" stroke-width="1.2"/>
<path d="M57.6,392.6 H80.4 V395.4 C80.4,397.6 79,398.6 77,398.6 H61 C59,398.6 57.6,397.6 57.6,395.4 Z" fill="#f6e68e" stroke="#3d7280" stroke-width="1.2"/>
<path d="M70,388.4 L77,388.4 L73.4,391.2 Z" fill="#fff" stroke="#3d7280" stroke-width=".7"/>
<path d="M63,382.6 l2,-1 M67.5,381.8 l2,-1 M72,382.6 l2,-1" stroke="#3d7280" stroke-width=".7" fill="none"/>
<!-- obesity -->
<circle cx="127.8" cy="374" r="2.2" fill="#edf6f9" stroke="#3d7280" stroke-width="1.2"/>
<path d="M127.8,377.4 C125.4,377.4 123.4,378.2 122.2,380 L119.4,384.8 L120.8,385.8 L124,382.2 C123,385 122.6,388 123.4,391 L124,398.6 L127,398.6 L127.4,392.6 L128.2,392.6 L128.6,398.6 L131.6,398.6 L132.2,391 C133,388 132.6,385 131.6,382.2 L134.8,385.8 L136.2,384.8 L133.4,380 C132.2,378.2 130.2,377.4 127.8,377.4 Z" fill="#f0806e" stroke="#3d7280" stroke-width="1.1"/>
<!-- wine + cigarette -->
<path d="M174.2,379.4 H185 V385 C185,388.6 182.6,390.6 179.6,390.6 C176.6,390.6 174.2,388.6 174.2,385 Z" fill="#fff" stroke="#3d7280" stroke-width="1.2"/>
<path d="M174.8,384 H184.4 V385 C184.4,388.2 182.4,390 179.6,390 C176.8,390 174.8,388.2 174.8,385 Z" fill="#f0806e"/>
<path d="M179.6,390.6 V397.6 M175.4,398 H183.8" fill="none" stroke="#3d7280" stroke-width="1.3"/>
<rect x="184" y="392.3" width="13.6" height="3" fill="#9cc4cf" stroke="#3d7280" stroke-width="1"/>
<path d="M199.4,392 V395.6 M201.4,392 V395.6" stroke="#3d7280" stroke-width=".9" fill="none"/>
<path d="M199.8,390.6 C200.4,388.6 199.6,387 197.4,386.6 C194.6,386.2 191.4,386 191,383.6 C190.6,381.6 192.4,381 194.6,381.2" fill="none" stroke="#3d7280" stroke-width="1"/>
<path d="M201.8,390.6 C202.4,387.6 201,385.4 198,384.8 C196,384.4 194.4,384.2 194.4,383.2" fill="none" stroke="#3d7280" stroke-width="1"/>
<!-- medications -->
<rect x="55.9" y="422.6" width="8.8" height="3.4" rx=".8" fill="#f0806e" stroke="#3d7280" stroke-width="1.1"/>
<rect x="53.5" y="426.6" width="13.4" height="15.4" rx="2.2" fill="#fff" stroke="#3d7280" stroke-width="1.2"/>
<rect x="57.6" y="431.6" width="9.3" height="6.8" fill="#f6e68e" stroke="#3d7280" stroke-width=".9"/>
<rect x="71" y="422.4" width="13.6" height="19.6" rx="2.6" fill="#a9cdd6" stroke="#3d7280" stroke-width="1.2"/>
<path d="M74,426 h3 M78.6,426 h3 M74,430 h3 M78.6,430 h3 M74,434 h3 M78.6,434 h3 M74,438 h3 M78.6,438 h3" stroke="#3d7280" stroke-width="1.5" fill="none" opacity=".75"/>
<!-- eating -->
<path d="M110.6,419.4 V424.6 C110.6,426.6 111.6,427.6 113.1,427.6 C114.6,427.6 115.6,426.6 115.6,424.6 V419.4 M113.1,419.4 V442.2" fill="none" stroke="#3d7280" stroke-width="1.1"/>
<circle cx="128.3" cy="430.3" r="11.2" fill="#a9cdd6" stroke="#3d7280" stroke-width="1.2"/>
<circle cx="128.3" cy="430.3" r="7.9" fill="#fff" stroke="#3d7280" stroke-width="1.1"/>
<path d="M128.5,424.4 V430.6 L126.2,428" fill="none" stroke="#3d7280" stroke-width="1"/>
<path d="M144.6,442.2 V419.4 C142.8,422 142.2,427 142.6,432 H144.6" fill="#edf6f9" stroke="#3d7280" stroke-width="1.1"/>
<!-- pregnancy -->
<ellipse cx="187.7" cy="430" rx="11.4" ry="12.3" transform="rotate(14 187.7 430)" fill="#edf6f9" stroke="#3d7280" stroke-width="1.3"/>
<circle cx="192.4" cy="425.4" r="3.1" fill="#a9cdd6" stroke="#3d7280" stroke-width="1"/>
<path d="M183.4,420 C182,424 183,427 185.6,428.6 M189.6,428.4 C187.6,426.6 185.6,427 185.4,429 C185.4,430.6 187,431.4 188.2,431.4 C186.6,433 183.4,432 181.4,433.6 C179.4,435.2 179.6,438 181.6,438.6 C183.4,439 184.6,437.4 185.6,437 C186.6,439.4 189,440 191,438.6 C194,436.6 195.6,432 194,428.6" fill="#a9cdd6" stroke="#3d7280" stroke-width="1"/>
</g>
<g class="lb" font-size="5.9">
<text x="57.8" y="408.6" textLength="21.2" lengthAdjust="spacingAndGlyphs">BAD DIET</text>
<text x="117.8" y="408.6" textLength="19.8" lengthAdjust="spacingAndGlyphs">OBESITY</text>
<text x="158.8" y="408.6" textLength="56.8" lengthAdjust="spacingAndGlyphs">UNHEALTHY LIFESTYLE</text>
<text x="52" y="452.2" textLength="33.4" lengthAdjust="spacingAndGlyphs">MEDICATIONS</text>
<text x="119.2" y="452.2" textLength="17.6" lengthAdjust="spacingAndGlyphs">EATING</text>
<text x="104.5" y="459.7" textLength="47.3" lengthAdjust="spacingAndGlyphs">CLOSE TO BEDTIME</text>
<text x="172.5" y="452.2" textLength="29.5" lengthAdjust="spacingAndGlyphs">PREGNANCY</text>
</g>
<!--CAUSES-->

<g id="prev" stroke-linejoin="round" stroke-linecap="round">
<text x="463.2" y="357.2" font-size="7.6" font-weight="bold" class="t" stroke="#3d6b78" stroke-width=".25" textLength="42.6" lengthAdjust="spacingAndGlyphs">HEARTBURN</text><text x="509.3" y="357.2" font-size="7.6" font-weight="bold" class="t" stroke="#3d6b78" stroke-width=".25" textLength="44.2" lengthAdjust="spacingAndGlyphs">PREVENTION</text>
<circle cx="311" cy="405" r="25.3" fill="#fff" stroke="#3f7683" stroke-width="2.4"/>
<!-- can -->
<path d="M292,394.6 L293,392.8 H302 L303,394.6 V412.4 L302,414 H293 L292,412.4 Z" fill="#a9cdd6" stroke="#3d7280" stroke-width="1.1"/>
<path d="M292.4,400.4 C296,398.6 299,401.6 302.6,399.4 V404.6 C299,406.8 296,403.8 292.4,405.6 Z" fill="#f6e68e"/>
<path d="M300.4,392.6 L301.6,390.4 H303.4" fill="none" stroke="#3d7280" stroke-width="1"/>
<!-- small burger -->
<path d="M309.2,396 C309.2,392 312.6,390.2 318.6,390.2 C324.6,390.2 328,392 328,396 Z" fill="#f6e68e" stroke="#3d7280" stroke-width="1"/>
<rect x="308.6" y="396" width="20" height="3.8" rx="1.8" fill="#f0806e" stroke="#3d7280" stroke-width="1"/>
<path d="M309.6,399.8 H327.6 V401.6 C327.6,403.2 326.6,404 325,404 H312.2 C310.6,404 309.6,403.2 309.6,401.6 Z" fill="#f6e68e" stroke="#3d7280" stroke-width="1"/>
<!-- chili -->
<path d="M307.6,418.6 C312,420.6 318,418.6 322,414 C323.6,412 324.6,411.2 326,411 C322,410 319,411.6 316.6,413.6 C313.6,416 310.6,417.6 307.6,418.6 Z" fill="#f0705a" stroke="#e25a44" stroke-width=".6"/>
<path d="M293.3,422.8 L328.7,387.4" stroke="#3d7280" stroke-width="2" fill="none"/>
<circle cx="398.6" cy="405" r="25.3" fill="#fff" stroke="#3f7683" stroke-width="2.4"/>
<path d="M380.8,393.4 V398.6 C380.8,400.6 381.8,401.6 383.3,401.6 C384.8,401.6 385.8,400.6 385.8,398.6 V393.4 M383.3,393.4 V416.4" fill="none" stroke="#3d7280" stroke-width="1.1"/>
<circle cx="399" cy="405" r="10.9" fill="#a9cdd6" stroke="#3d7280" stroke-width="1.2"/>
<circle cx="399" cy="405" r="6.8" fill="#fff" stroke="#3d7280" stroke-width="1.1"/>
<path d="M398.6,406.6 C396,407 394,405.6 393.6,403 C396.2,402.6 398.2,404 398.6,406.6 Z M399.4,406.6 C402,407 404,405.6 404.4,403 C401.8,402.6 399.8,404 399.4,406.6 Z" fill="#f2dc72" stroke="#c9b24e" stroke-width=".4"/>
<path d="M415.4,416.4 V393.4 C413.6,396 413,401 413.4,406 H415.4" fill="#fff" stroke="#3d7280" stroke-width="1.1"/>
<circle cx="480.3" cy="405" r="25.3" fill="#fff" stroke="#3f7683" stroke-width="2.4"/>
<!-- wine glass -->
<path d="M471.2,388.8 H489.6 V396 C489.6,403 485.6,407 480.4,407 C475.2,407 471.2,403 471.2,396 Z" fill="#fff" stroke="#3d7280" stroke-width="1.3"/>
<path d="M471.9,395.4 H488.9 V396.4 C488.7,402.6 485,406.2 480.4,406.2 C475.8,406.2 472.1,402.6 471.9,396.4 Z" fill="#f0806e"/>
<path d="M480.4,407 V420.4 M473.6,421 C476,420 478,419.8 480.4,419.8 C482.8,419.8 484.8,420 487.2,421" fill="none" stroke="#3d7280" stroke-width="1.4"/>
<path d="M462.6,422.8 L498.0,387.4" stroke="#3d7280" stroke-width="2" fill="none"/>
<circle cx="559.5" cy="405" r="25.3" fill="#fff" stroke="#3f7683" stroke-width="2.4"/>
<!-- bed -->
<rect x="549" y="397.4" width="24.4" height="7.4" rx="3" fill="#a9cdd6" stroke="#3d7280" stroke-width="1"/>
<circle cx="550.4" cy="400.2" r="3" fill="#fff" stroke="#3d7280" stroke-width="1"/>
<rect x="545.4" y="404.8" width="28.6" height="4.6" fill="#f6e68e" stroke="#3d7280" stroke-width="1"/>
<rect x="543.4" y="392.4" width="2" height="24" fill="#f6e68e" stroke="#3d7280" stroke-width="1"/>
<rect x="574" y="397.4" width="2" height="19" fill="#f6e68e" stroke="#3d7280" stroke-width="1"/>
<path d="M541.8,422.8 L577.2,387.4" stroke="#3d7280" stroke-width="2" fill="none"/>
<circle cx="638.4" cy="405" r="25.3" fill="#fff" stroke="#3f7683" stroke-width="2.4"/>
<!-- cigarette -->
<rect x="622.2" y="410.6" width="26.8" height="5" fill="#a9cdd6" stroke="#3d7280" stroke-width="1.1"/>
<path d="M651.1,410.2 V416 M653.8,410.2 V416" stroke="#3d7280" stroke-width="1.1" fill="none"/>
<path d="M653.8,408 V399 C653.8,395.6 651.6,393.4 648,393.2 C645.6,393 643.6,391.6 642.4,389.6 C641.4,388 639.6,387.6 638.2,388.4 M651,408 V402.4 C651,400 649.6,399.2 647.4,399.2 H642 C638.6,399.2 636.6,396.6 636.6,393.6 C636.6,391.6 637,390 637.6,388.8" fill="none" stroke="#3d7280" stroke-width="1.1"/>
<path d="M621.0,422.8 L656.4,387.4" stroke="#3d7280" stroke-width="2" fill="none"/>
<circle cx="715.3" cy="405" r="25.3" fill="#fff" stroke="#3f7683" stroke-width="2.4"/>
<!-- scale -->
<rect x="702.8" y="393.4" width="25.2" height="26.4" rx="4.6" fill="#f6e68e" stroke="#3d7280" stroke-width="1.2"/>
<circle cx="715.4" cy="393.8" r="5.6" fill="#fff" stroke="#3d7280" stroke-width="1.2"/>
<path d="M715.4,395.4 L717,391.4" stroke="#3d7280" stroke-width="1.1" fill="none"/>
<path d="M709.4,407.4 H721.4 L715.4,414 Z" fill="#f0806e" stroke="#3d7280" stroke-width=".9"/>
</g>
<g class="lb" font-size="6.5">
<text x="281.4" y="443.7" textLength="57.6" lengthAdjust="spacingAndGlyphs">AVOID TRIGGER FOOD</text>
<text x="370.6" y="443.7" textLength="55.4" lengthAdjust="spacingAndGlyphs">HAVE SMALL MEALS</text>
<text x="458.6" y="443.7" textLength="42.6" lengthAdjust="spacingAndGlyphs">AVOID ALCOHOL</text>
<text x="534" y="443.7" textLength="50.8" lengthAdjust="spacingAndGlyphs">DO NOT LAY DOWN</text>
<text x="540" y="452.7" textLength="38.4" lengthAdjust="spacingAndGlyphs">AFTER MEALS</text>
<text x="617.6" y="443.7" textLength="41.8" lengthAdjust="spacingAndGlyphs">STOP SMOKING</text>
<text x="697" y="443.7" textLength="36.2" lengthAdjust="spacingAndGlyphs">LOSE WEIGHT</text>
</g>
<!--PREVENTION-->
</svg>
</body></html>
